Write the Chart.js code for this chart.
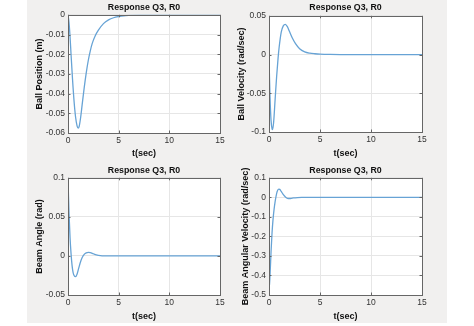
<!DOCTYPE html>
<html>
<head>
<meta charset="utf-8">
<script src="https://cdn.jsdelivr.net/npm/chart.js@4.4.1/dist/chart.umd.min.js"></script>
<style>
  html, body { margin: 0; padding: 0; background: #ffffff; }
  #page { position: relative; width: 474px; height: 326px; overflow: hidden; }
  #panel { position: absolute; left: 27px; top: 0; width: 420px; height: 323px; background: #f1f0ef; }
  .cell { position: absolute; }
</style>
</head>
<body>
<div id="page">
  <div id="panel"></div>
  <div class="cell" style="left:27px;top:0;width:210px;height:163px"><canvas id="c1"></canvas></div>
  <div class="cell" style="left:237px;top:0;width:210px;height:163px"><canvas id="c2"></canvas></div>
  <div class="cell" style="left:27px;top:163px;width:210px;height:163px"><canvas id="c3"></canvas></div>
  <div class="cell" style="left:237px;top:163px;width:210px;height:163px"><canvas id="c4"></canvas></div>
</div>
<script>
// Shared text
const plotTitle = 'Response Q3, R0';
const xLabel = 't(sec)';
const xTicks = [0, 5, 10, 15];

// Ball position (m)
const tBallPos = [0, 0.1, 0.2, 0.3, 0.45, 0.6, 0.75, 0.9, 1.0, 1.1, 1.25, 1.4, 1.6, 1.8, 2.0, 2.2, 2.4, 2.7, 3.0, 3.5, 4.0, 4.5, 5.0, 5.5, 6.0, 7.0, 8.0, 15];
const ballPos = [0, -0.004, -0.011, -0.02, -0.033, -0.044, -0.052, -0.0565, -0.0575, -0.0567, -0.052, -0.0455, -0.037, -0.0295, -0.0232, -0.0183, -0.0144, -0.0105, -0.0078, -0.0045, -0.0026, -0.0015, -0.0009, -0.0005, -0.0003, -0.0001, 0, 0];
const ballPosTicks = [0, -0.01, -0.02, -0.03, -0.04, -0.05, -0.06];

// Ball velocity
const tBallVel = [0, 0.05, 0.1, 0.2, 0.3, 0.35, 0.45, 0.6, 0.75, 0.9, 1.0, 1.2, 1.4, 1.6, 1.8, 2.0, 2.3, 2.6, 3.0, 3.5, 4.0, 4.5, 5.0, 6.0, 7.0, 15];
const ballVel = [0, -0.03, -0.055, -0.085, -0.096, -0.097, -0.088, -0.058, -0.028, -0.003, 0.01, 0.029, 0.037, 0.039, 0.036, 0.030, 0.021, 0.014, 0.0075, 0.0035, 0.0018, 0.001, 0.0005, 0.0001, 0, 0];
const ballVelTicks = [0.05, 0, -0.05, -0.1];

// Beam angle (rad)
const tBeamAng = [0, 0.05, 0.1, 0.2, 0.3, 0.4, 0.5, 0.6, 0.75, 0.9, 1.05, 1.2, 1.4, 1.6, 1.8, 2.0, 2.2, 2.5, 2.8, 3.2, 3.6, 4.0, 15];
const beamAng = [0.1, 0.076, 0.055, 0.024, 0.003, -0.012, -0.021, -0.025, -0.0265, -0.023, -0.016, -0.009, -0.002, 0.002, 0.004, 0.0045, 0.0042, 0.0028, 0.0015, 0.0005, 0.0001, 0, 0];
const beamAngTicks = [0.1, 0.05, 0, -0.05];

// Beam angular velocity
const tBeamVel = [0, 0.01, 0.1, 0.2, 0.3, 0.4, 0.5, 0.6, 0.7, 0.8, 0.95, 1.05, 1.2, 1.35, 1.5, 1.7, 1.9, 2.1, 2.4, 2.8, 3.2, 15];
const beamVel = [0, -0.47, -0.4, -0.28, -0.18, -0.11, -0.06, -0.022, 0.008, 0.03, 0.042, 0.041, 0.03, 0.018, 0.008, -0.002, -0.006, -0.006, -0.003, -0.001, 0, 0];
const beamVelTicks = [0.1, 0, -0.1, -0.2, -0.3, -0.4, -0.5];

const FONT = '"Liberation Sans", Arial, Helvetica, sans-serif';
const LINE = '#67a3d5';

// White axes background, box outline and inward tick marks (MATLAB style)
const boxPlugin = {
  id: 'box',
  beforeDraw(chart) {
    const { ctx, chartArea: a } = chart;
    ctx.save();
    ctx.fillStyle = '#ffffff';
    ctx.fillRect(a.left, a.top, a.right - a.left, a.bottom - a.top);
    ctx.restore();
  },
  afterDraw(chart) {
    const { ctx, chartArea: a, scales } = chart;
    ctx.save();
    ctx.strokeStyle = '#666666';
    ctx.lineWidth = 1;
    ctx.strokeRect(Math.round(a.left) + 0.5, Math.round(a.top) + 0.5,
      Math.round(a.right - a.left), Math.round(a.bottom - a.top));
    const len = 2.5;
    ctx.beginPath();
    scales.x.ticks.forEach(t => {
      const px = Math.round(scales.x.getPixelForValue(t.value)) + 0.5;
      ctx.moveTo(px, a.bottom); ctx.lineTo(px, a.bottom - len);
      ctx.moveTo(px, a.top); ctx.lineTo(px, a.top + len);
    });
    scales.y.ticks.forEach(t => {
      const py = Math.round(scales.y.getPixelForValue(t.value)) + 0.5;
      ctx.moveTo(a.left, py); ctx.lineTo(a.left + len, py);
      ctx.moveTo(a.right, py); ctx.lineTo(a.right - len, py);
    });
    ctx.stroke();
    ctx.restore();
  }
};

function makeChart(id, opts) {
  const points = opts.t.map((t, i) => ({ x: t, y: opts.y[i] }));
  return new Chart(document.getElementById(id), {
    type: 'line',
    data: {
      datasets: [{
        data: points,
        borderColor: LINE,
        borderWidth: 1.3,
        pointRadius: 0,
        cubicInterpolationMode: 'monotone',
        fill: false
      }]
    },
    options: {
      responsive: true,
      maintainAspectRatio: false,
      animation: false,
      layout: { padding: { left: 0, right: opts.padRight, top: 0, bottom: 0 } },
      plugins: {
        legend: { display: false },
        tooltip: { enabled: false },
        title: {
          display: true,
          text: plotTitle,
          fullSize: false,
          color: '#111111',
          font: { family: FONT, size: 8.8, weight: 'bold', lineHeight: 1 },
          padding: { top: opts.titleTop, bottom: opts.titleBottom }
        }
      },
      scales: {
        x: {
          type: 'linear',
          min: 0,
          max: 15,
          afterBuildTicks: s => { s.ticks = xTicks.map(v => ({ value: v })); },
          afterFit: s => { s.height = opts.xHeight; },
          grid: { color: '#e6e6e6', drawTicks: false },
          border: { display: false },
          ticks: {
            padding: 3,
            color: '#333333',
            font: { family: FONT, size: 8.5 },
            maxRotation: 0,
            callback: v => String(v)
          },
          title: {
            display: true,
            text: xLabel,
            color: '#111111',
            font: { family: FONT, size: 9, weight: 'bold', lineHeight: 1 },
            padding: { top: 0, bottom: 5 }
          }
        },
        y: {
          type: 'linear',
          min: opts.min,
          max: opts.max,
          afterBuildTicks: s => { s.ticks = opts.ticks.map(v => ({ value: v })); },
          afterFit: s => { s.width = opts.yWidth; },
          grid: { color: '#e6e6e6', drawTicks: false },
          border: { display: false },
          ticks: {
            padding: 3,
            color: '#333333',
            font: { family: FONT, size: 8.5 },
            callback: v => String(v)
          },
          title: {
            display: true,
            text: opts.yLabel,
            color: '#111111',
            font: { family: FONT, size: 9, weight: 'bold', lineHeight: 1 },
            padding: { top: opts.yTitlePad, bottom: 0 }
          }
        }
      }
    },
    plugins: [boxPlugin]
  });
}

makeChart('c1', {
  t: tBallPos, y: ballPos, ticks: ballPosTicks, min: -0.06, max: 0,
  yLabel: 'Ball Position (m)', yWidth: 41, padRight: 17, xHeight: 30,
  titleTop: 3, titleBottom: 3, yTitlePad: 8.5
});
makeChart('c2', {
  t: tBallVel, y: ballVel, ticks: ballVelTicks, min: -0.1, max: 0.05,
  yLabel: 'Ball Velocity (rad/sec)', yWidth: 32, padRight: 25, xHeight: 31,
  titleTop: 3.5, titleBottom: 3.5, yTitlePad: 0.5
});
makeChart('c3', {
  t: tBeamAng, y: beamAng, ticks: beamAngTicks, min: -0.05, max: 0.1,
  yLabel: 'Beam Angle (rad)', yWidth: 41, padRight: 17, xHeight: 31,
  titleTop: 3, titleBottom: 3, yTitlePad: 8
});
makeChart('c4', {
  t: tBeamVel, y: beamVel, ticks: beamVelTicks, min: -0.5, max: 0.1,
  yLabel: 'Beam Angular Velocity (rad/sec)', yWidth: 32, padRight: 25, xHeight: 31,
  titleTop: 3, titleBottom: 3, yTitlePad: 4.5
});
</script>
</body>
</html>
